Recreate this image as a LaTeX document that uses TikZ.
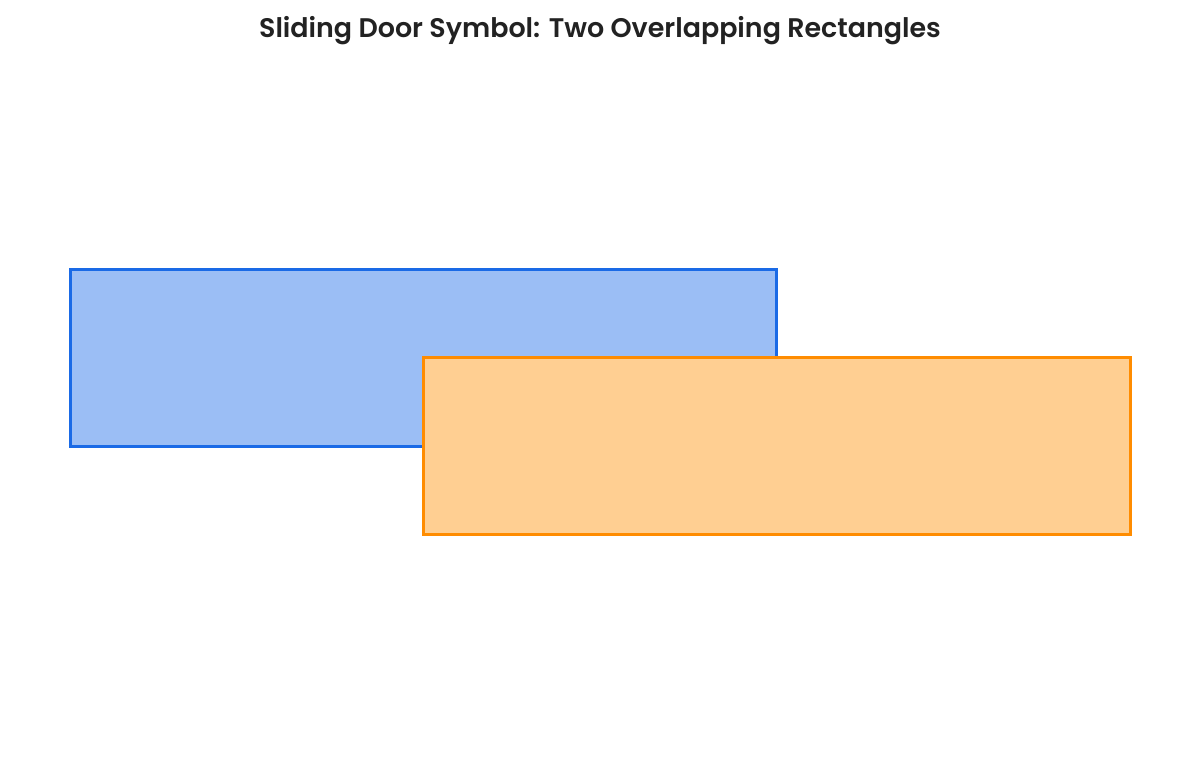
\documentclass[tikz,border=0pt]{standalone}
\usepackage{fontspec}
\setmainfont{Poppins}
\newfontfamily\titlefont{Poppins SemiBold}
\definecolor{bluefill}{HTML}{9BBEF5}
\definecolor{blueline}{HTML}{1A6AE6}
\definecolor{orangefill}{HTML}{FFCF92}
\definecolor{orangeline}{HTML}{FF8C00}
\definecolor{titlecol}{HTML}{222222}
\begin{document}
\begin{tikzpicture}[x=1pt,y=-1pt,
  door/.style={line width=3pt}]
\useasboundingbox[fill=white] (0,0) rectangle (1200,763);
\node[font=\titlefont\fontsize{26.9}{32}\selectfont, text=titlecol] (title) at (600,31) {Sliding Door Symbol: Two Overlapping Rectangles};
\draw[door, fill=bluefill, draw=blueline] (70,269.5) rectangle (776,446);
\draw[door, fill=orangefill, draw=orangeline] (423,357.5) rectangle (1130,534);
\end{tikzpicture}
\end{document}
